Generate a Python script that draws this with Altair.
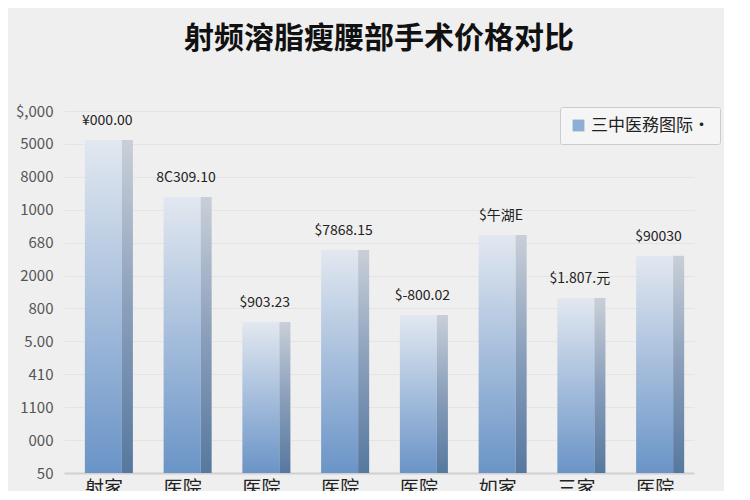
import altair as alt
import pandas as pd

# ---- data ----
x_labels = ["射家", "医院", "医院", "医院", "医院", "如家", "三家", "医院"]
values = [10120, 8390, 4590, 6780, 4800, 7230, 5320, 6600]
value_labels = ["¥000.00", "8C309.10", "$903.23", "$7868.15", "$-800.02", "$午湖E", "$1.807.元", "$90030"]
y_tick_values = [0, 1000, 2000, 3000, 4000, 5000, 6000, 7000, 8000, 9000, 10000, 11000]
y_tick_labels = ["50", "000", "1100", "410", "5.00", "800", "2000", "680", "1000", "8000", "5000", "$,000"]
series_name = "三中医務图际·"
title_text = "射频溶脂瘦腰部手术价格对比"

df = pd.DataFrame({
    "idx": list(range(len(values))),
    "value": values,
    "label": value_labels,
    "series": [series_name] * len(values),
})

FONT = "Noto Sans CJK SC"
HALF = 0.235   # half width of the bar front, in category units
SIDE = 0.14    # depth of the bar side face, in category units

x_label_expr = "[" + ",".join("'%s'" % s for s in x_labels) + "][datum.value]"
y_label_expr = "{" + ",".join("'%d':'%s'" % (v, l) for v, l in zip(y_tick_values, y_tick_labels)) + "}[''+datum.value]"

x_scale = alt.Scale(domain=[-0.5, len(values) - 0.5], nice=False, zero=False)
x_axis = alt.Axis(title=None, values=list(range(len(values))), labelExpr=x_label_expr,
                  labelAngle=0, labelFontSize=19, labelColor="#222222", labelPadding=6,
                  ticks=False, grid=False, domainColor="#d0d0d0", domainWidth=2,
                  labelFont=FONT)
y_scale = alt.Scale(domain=[0, 11000], nice=False)
y_enc = alt.Y("value:Q", scale=y_scale,
              axis=alt.Axis(title=None, values=y_tick_values, labelExpr=y_label_expr,
                            labelFontSize=15, labelColor="#555555", labelPadding=11,
                            ticks=False, domain=False, grid=True, gridColor="#e4e4e4",
                            labelFont=FONT))

front_grad = alt.Gradient(
    gradient="linear",
    stops=[alt.GradientStop(color="#6a94c7", offset=0),
           alt.GradientStop(color="#a6bedc", offset=0.5),
           alt.GradientStop(color="#e2e8f0", offset=1)],
    x1=0, x2=0, y1=1, y2=0)
side_grad = alt.Gradient(
    gradient="linear",
    stops=[alt.GradientStop(color="#56789f", offset=0),
           alt.GradientStop(color="#8a9fbb", offset=0.5),
           alt.GradientStop(color="#c9cfd8", offset=1)],
    x1=0, x2=0, y1=1, y2=0)

base = alt.Chart(df).transform_calculate(
    f0="datum.idx - %f" % HALF,
    f1="datum.idx + %f" % HALF,
    s1="datum.idx + %f" % (HALF + SIDE),
    tx="datum.idx + 0.05",
)

front = base.mark_bar(color=front_grad).encode(
    x=alt.X("f0:Q", scale=x_scale, axis=x_axis), x2="f1:Q", y=y_enc, y2=alt.datum(0))
side = base.mark_bar(color=side_grad).encode(
    x=alt.X("f1:Q", scale=x_scale), x2="s1:Q", y=y_enc, y2=alt.datum(0))
text = base.mark_text(baseline="bottom", dy=-12, fontSize=14, color="#222222", font=FONT).encode(
    x=alt.X("tx:Q", scale=x_scale), y=y_enc, text="label:N")
legend_layer = base.mark_point(shape="square", filled=True, opacity=0).encode(
    x=alt.X("idx:Q", scale=x_scale), y=y_enc,
    color=alt.Color("series:N", scale=alt.Scale(range=["#8eaed6"]),
                    legend=alt.Legend(title=None, orient="none", legendX=496, legendY=-4,
                                      symbolType="square", symbolSize=140, symbolOpacity=1,
                                      labelFontSize=17, labelColor="#222222", labelFont=FONT,
                                      padding=10, strokeColor="#cccccc", fillColor="#f5f5f5",
                                      cornerRadius=2, labelLimit=300)))

chart = alt.layer(front, side, text, legend_layer).properties(
    width=630, height=362,
    title=alt.TitleParams(title_text, fontSize=30, fontWeight="bold", font=FONT,
                          color="#111111", anchor="middle", offset=50),
    autosize=alt.AutoSizeParams(type="none"),
    padding={"left": 56, "top": 103, "right": 30, "bottom": 18},
    background="#efefef",
).configure_view(stroke=None)

chart.save("out.html", embed_options={"renderer": "svg", "actions": False})
